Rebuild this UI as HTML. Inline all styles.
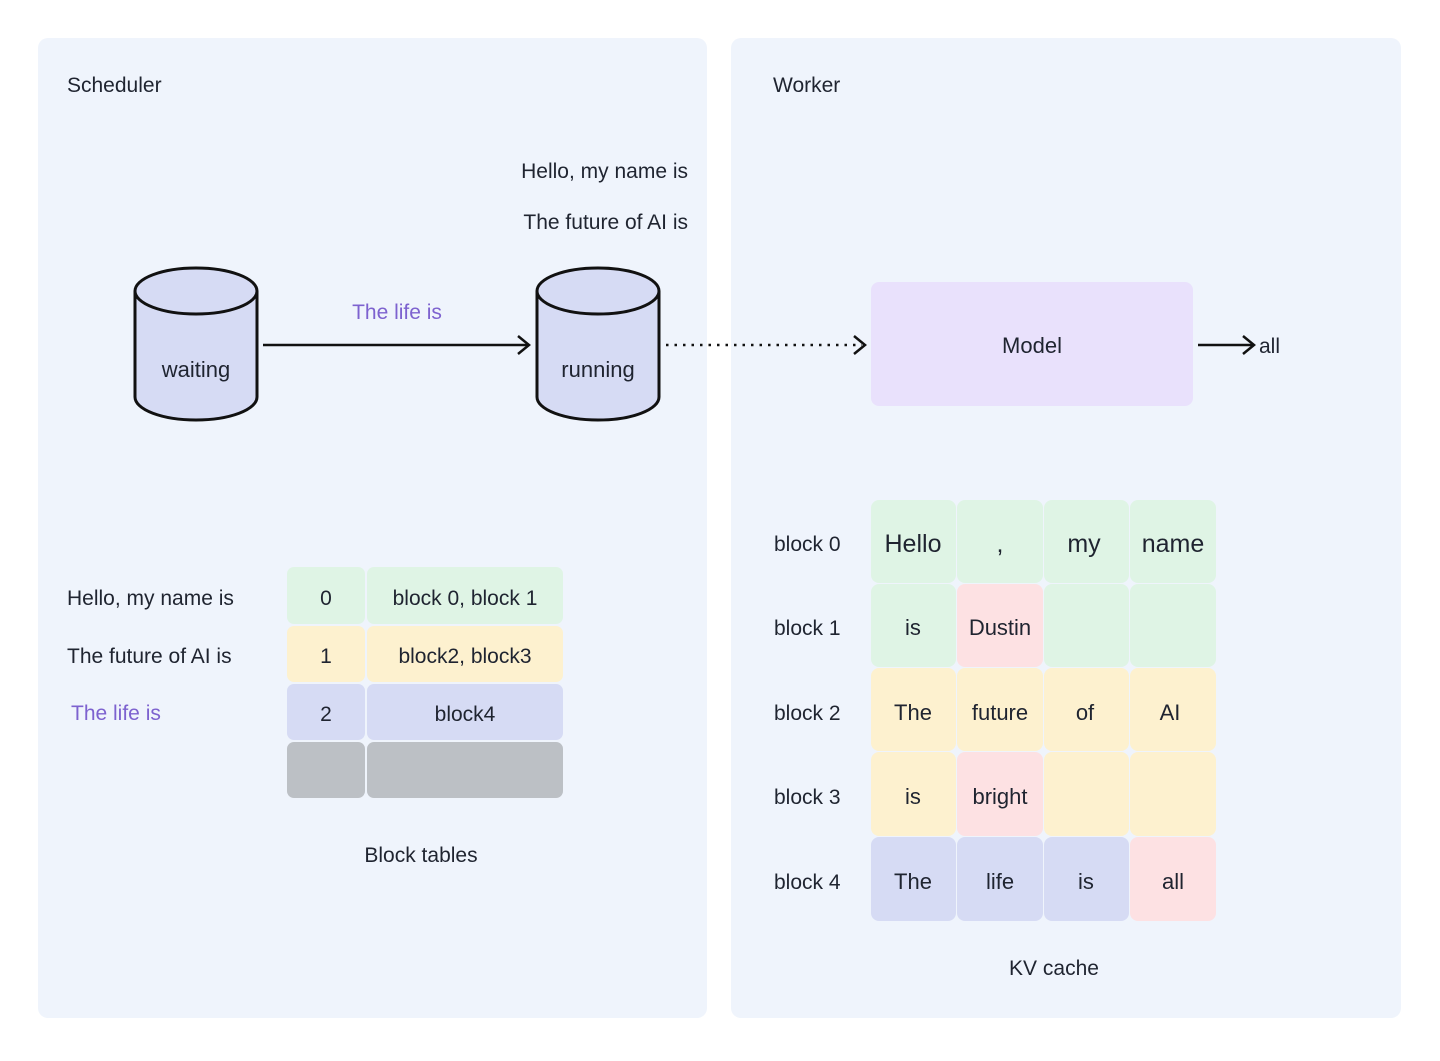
<!DOCTYPE html>
<html><head><style>body{margin:0;background:#fff}</style></head><body>
<svg width="1440" height="1056" xmlns="http://www.w3.org/2000/svg" font-family="Liberation Sans, sans-serif" fill="#1f2430">
<rect x="38" y="38" width="669" height="980" rx="10" fill="#eff4fc"/>
<rect x="731" y="38" width="670" height="980" rx="10" fill="#eff4fc"/>
<g font-size="21" fill="#1f2430">
<text x="67" y="92">Scheduler</text>
<text x="773" y="92">Worker</text>
<text x="688" y="178" text-anchor="end">Hello, my name is</text>
<text x="688" y="229" text-anchor="end">The future of AI is</text>
<text x="397" y="319" text-anchor="middle" fill="#7d62cf">The life is</text>
</g>
<g stroke="#111" stroke-width="3" fill="#d6dbf4">
<path d="M135 291 V397 A61 23 0 0 0 257 397 V291"/>
<ellipse cx="196" cy="291" rx="61" ry="23"/>
<path d="M537 291 V397 A61 23 0 0 0 659 397 V291"/>
<ellipse cx="598" cy="291" rx="61" ry="23"/>
</g>
<g font-size="22" text-anchor="middle"><text x="196" y="377">waiting</text><text x="598" y="377">running</text></g>
<g stroke="#111" stroke-width="2.5" fill="none">
<line x1="263" y1="345" x2="528" y2="345"/><path d="M518 336 L529 345 L518 354"/>
<line x1="666" y1="345" x2="862" y2="345" stroke-dasharray="2.5 6"/><path d="M854 336 L865 345 L854 354"/>
<line x1="1198" y1="345" x2="1253" y2="345"/><path d="M1243 336 L1254 345 L1243 354"/>
</g>
<rect x="871" y="282" width="322" height="124" rx="8" fill="#e9e1fc"/>
<text x="1032" y="353" font-size="22" text-anchor="middle">Model</text>
<text x="1259" y="353" font-size="21">all</text>
<g font-size="21">
<text x="67" y="605">Hello, my name is</text>
<text x="67" y="663">The future of AI is</text>
<text x="71" y="720" fill="#7d62cf">The life is</text>
</g>
<rect x="287" y="567" width="78" height="57" rx="7" fill="#dff4e5"/><rect x="367" y="567" width="196" height="57" rx="7" fill="#dff4e5"/>
<rect x="287" y="626" width="78" height="56" rx="7" fill="#fdf1cf"/><rect x="367" y="626" width="196" height="56" rx="7" fill="#fdf1cf"/>
<rect x="287" y="684" width="78" height="56" rx="7" fill="#d6dbf4"/><rect x="367" y="684" width="196" height="56" rx="7" fill="#d6dbf4"/>
<rect x="287" y="742" width="78" height="56" rx="7" fill="#bcc0c5"/><rect x="367" y="742" width="196" height="56" rx="7" fill="#bcc0c5"/>
<g font-size="21" text-anchor="middle">
<text x="326" y="605">0</text><text x="465" y="605">block 0, block 1</text>
<text x="326" y="663">1</text><text x="465" y="663">block2, block3</text>
<text x="326" y="721">2</text><text x="465" y="721">block4</text>
<text x="421" y="862">Block tables</text>
<text x="1054" y="975">KV cache</text>
</g>
<g font-size="21">
<text x="774" y="551">block 0</text><text x="774" y="635">block 1</text><text x="774" y="720">block 2</text><text x="774" y="804">block 3</text><text x="774" y="889">block 4</text>
</g>
<g>
<rect x="871" y="500" width="85" height="83" rx="8" fill="#dff4e5"/><rect x="957" y="500" width="86" height="83" rx="8" fill="#dff4e5"/><rect x="1044" y="500" width="85" height="83" rx="8" fill="#dff4e5"/><rect x="1130" y="500" width="86" height="83" rx="8" fill="#dff4e5"/>
<rect x="871" y="584" width="85" height="83" rx="8" fill="#dff4e5"/><rect x="957" y="584" width="86" height="83" rx="8" fill="#fde1e3"/><rect x="1044" y="584" width="85" height="83" rx="8" fill="#dff4e5"/><rect x="1130" y="584" width="86" height="83" rx="8" fill="#dff4e5"/>
<rect x="871" y="668" width="85" height="83" rx="8" fill="#fdf1cf"/><rect x="957" y="668" width="86" height="83" rx="8" fill="#fdf1cf"/><rect x="1044" y="668" width="85" height="83" rx="8" fill="#fdf1cf"/><rect x="1130" y="668" width="86" height="83" rx="8" fill="#fdf1cf"/>
<rect x="871" y="752" width="85" height="84" rx="8" fill="#fdf1cf"/><rect x="957" y="752" width="86" height="84" rx="8" fill="#fde1e3"/><rect x="1044" y="752" width="85" height="84" rx="8" fill="#fdf1cf"/><rect x="1130" y="752" width="86" height="84" rx="8" fill="#fdf1cf"/>
<rect x="871" y="837" width="85" height="84" rx="8" fill="#d6dbf4"/><rect x="957" y="837" width="86" height="84" rx="8" fill="#d6dbf4"/><rect x="1044" y="837" width="85" height="84" rx="8" fill="#d6dbf4"/><rect x="1130" y="837" width="86" height="84" rx="8" fill="#fde1e3"/>
</g>
<g font-size="25" text-anchor="middle">
<text x="913" y="552">Hello</text><text x="1000" y="552">,</text><text x="1084" y="552">my</text><text x="1173" y="552">name</text>
</g>
<g font-size="22" text-anchor="middle">
<text x="913" y="635">is</text><text x="1000" y="635">Dustin</text>
<text x="913" y="720">The</text><text x="1000" y="720">future</text><text x="1085" y="720">of</text><text x="1170" y="720">AI</text>
<text x="913" y="804">is</text><text x="1000" y="804">bright</text>
<text x="913" y="889">The</text><text x="1000" y="889">life</text><text x="1086" y="889">is</text><text x="1173" y="889">all</text>
</g>
</svg>
</body></html>
